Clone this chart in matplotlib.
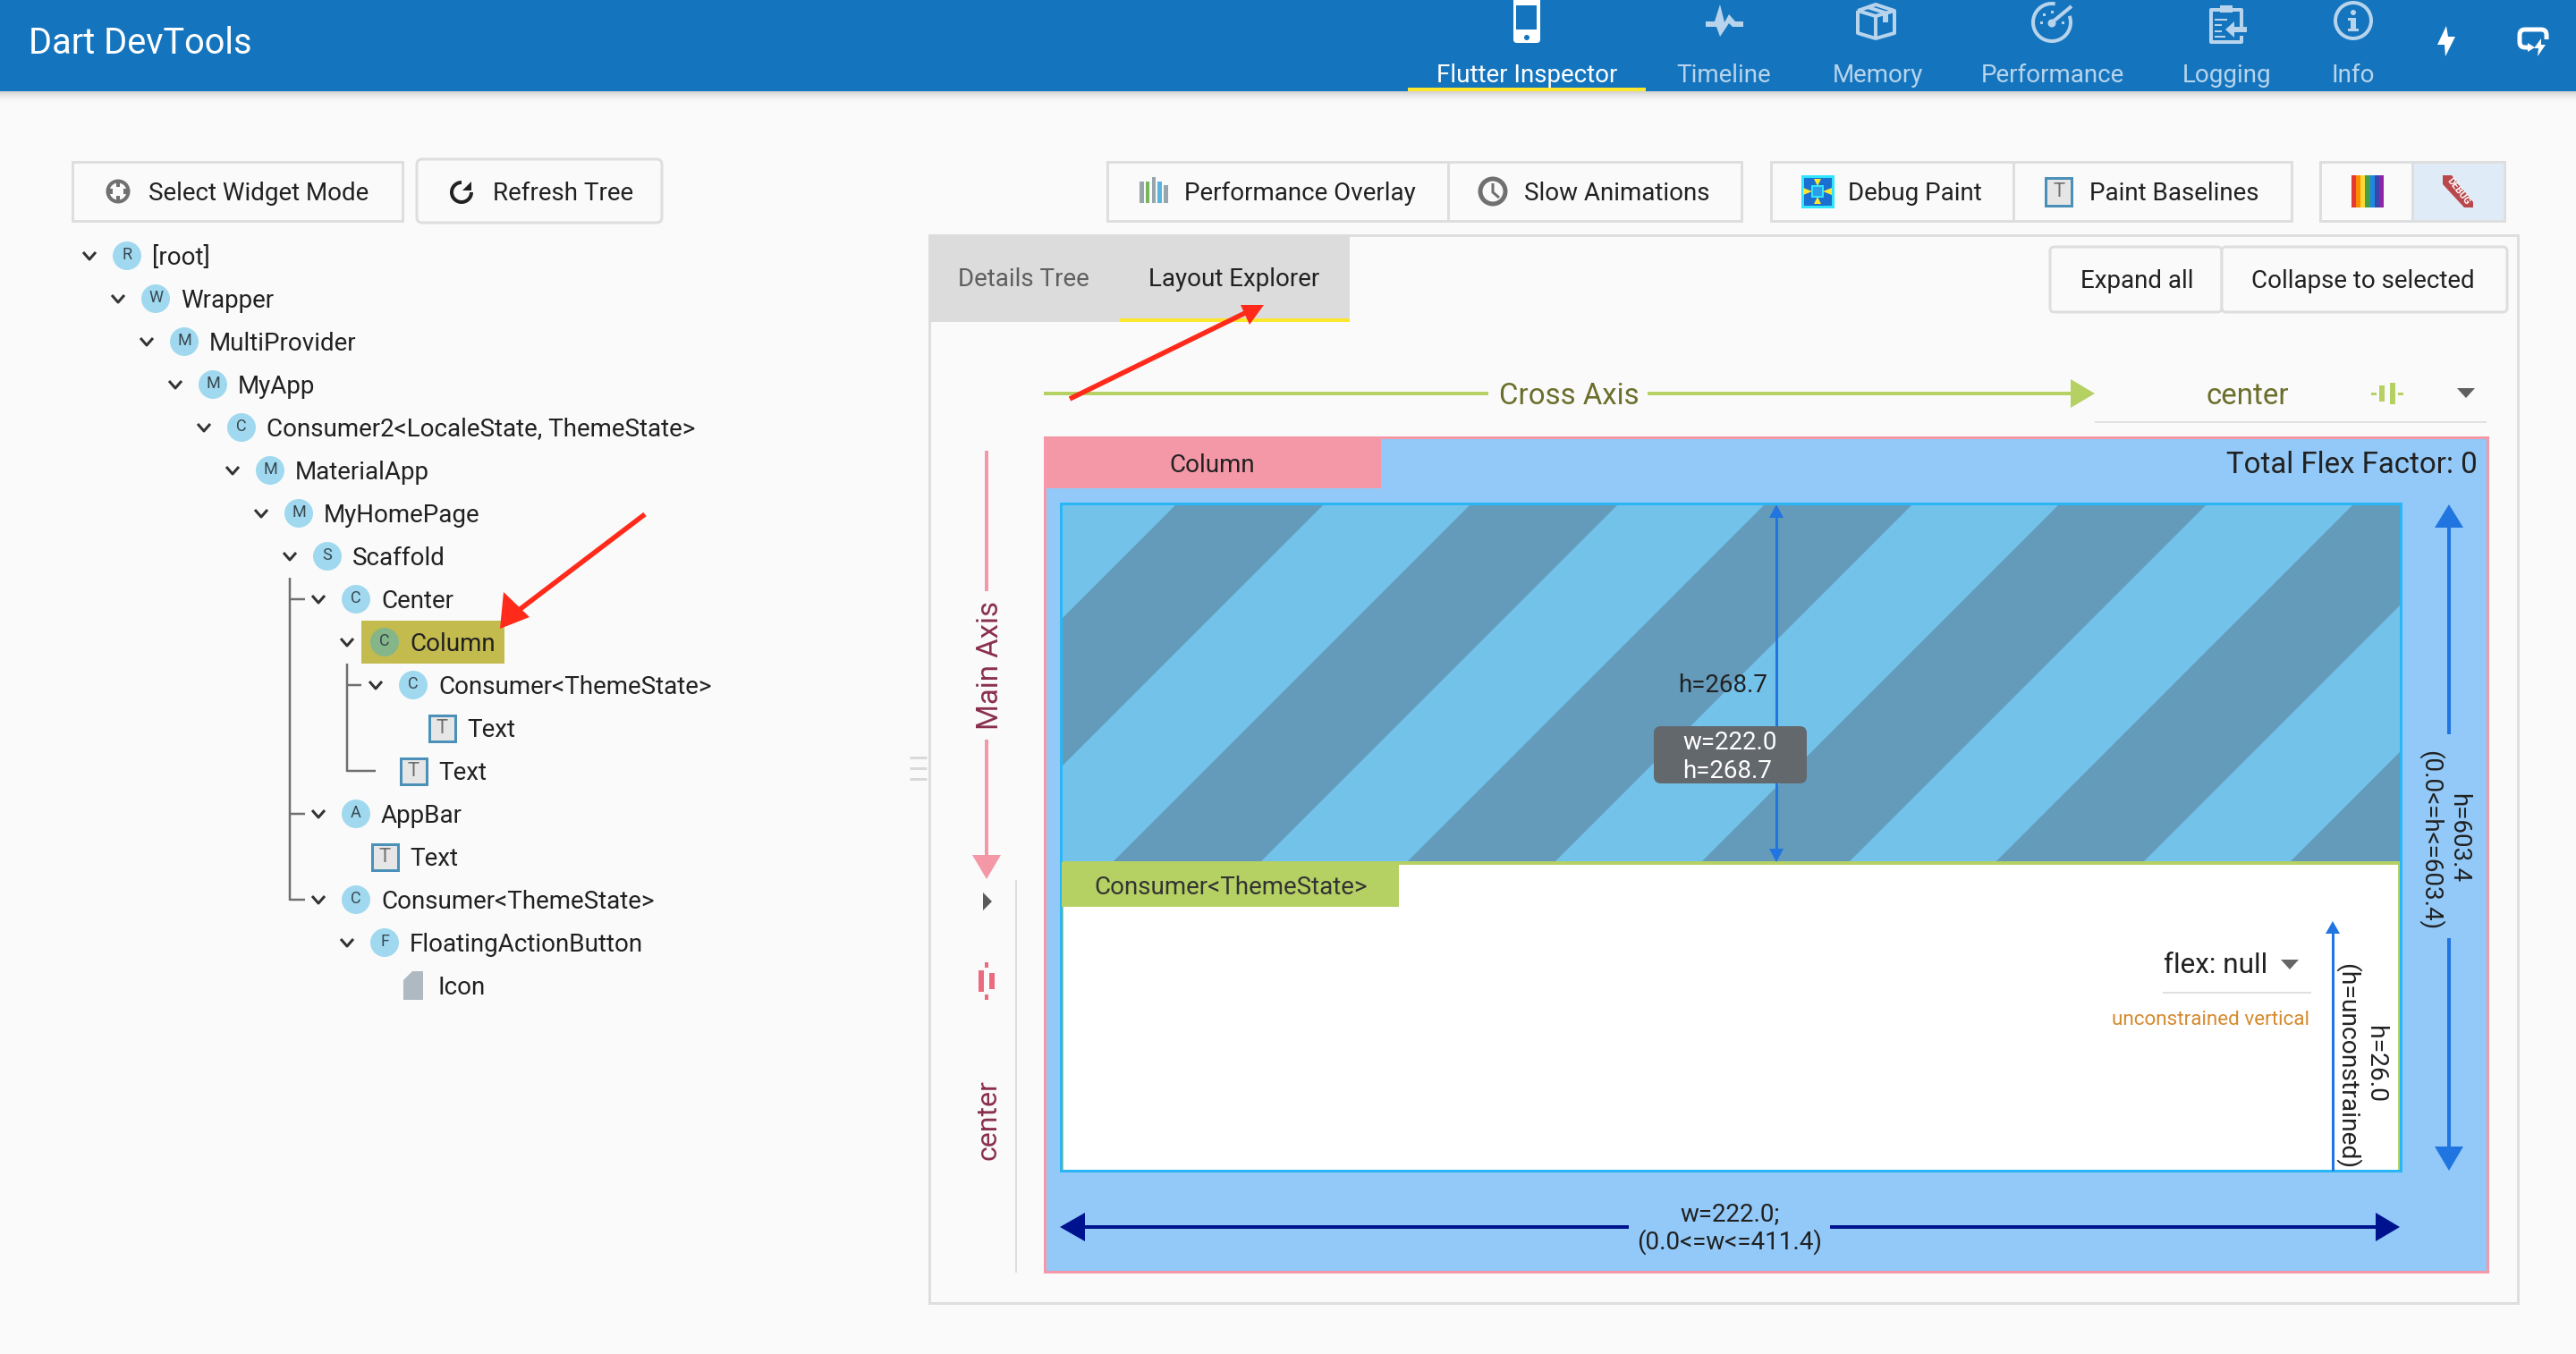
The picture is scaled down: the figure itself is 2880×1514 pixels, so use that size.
import numpy as np
import matplotlib
matplotlib.use("Agg")
import matplotlib.pyplot as plt
from matplotlib.patches import Rectangle, Polygon, Circle, FancyBboxPatch

plt.rcParams['font.family'] = ['Roboto', 'DejaVu Sans']

W, H = 2880, 1514
PX = 0.72

# ---------- content ----------
tab_labels = ["Flutter Inspector", "Timeline", "Memory", "Performance", "Logging", "Info"]
tab_centers = [1707, 1927, 2099, 2295, 2490, 2631]

tree_labels = ["[root]", "Wrapper", "MultiProvider", "MyApp", "Consumer2<LocaleState, ThemeState>",
               "MaterialApp", "MyHomePage", "Scaffold", "Center", "Column", "Consumer<ThemeState>",
               "Text", "Text", "AppBar", "Text", "Consumer<ThemeState>", "FloatingActionButton", "Icon"]
tree_depths = [0, 1, 2, 3, 4, 5, 6, 7, 8, 9, 10, 11, 10, 8, 9, 8, 9, 10]
tree_badges = ["R", "W", "M", "M", "C", "M", "M", "S", "C", "C", "C", "#T", "#T", "A", "#T", "C", "F", "#D"]
tree_chevrons = [1, 1, 1, 1, 1, 1, 1, 1, 1, 1, 1, 0, 0, 1, 0, 1, 1, 0]

stripe_starts = [1315, 1644, 1973, 2302, 2631, 2960, 3289]
rainbow = ["#e53935", "#fb8c00", "#fdd835", "#43a047", "#1e88e5", "#3949ab", "#8e24aa"]

# colours
BG = "#fafafa"; HEAD = "#1475be"; ICON = "#b7d4ec"; YEL = "#fde72e"; BORD = "#dedede"
BADGE = "#a0d9ef"; TXT = "#212121"; RED = "#ff2a1a"; PINK = "#f498a8"; GRN = "#b5d164"
OLIVE = "#6b6f2b"; WINE = "#8a2f4c"; SKY = "#92c9f8"; CYAN = "#29b6f6"; BLUE = "#2175e0"
NAVY = "#00138f"; L_ST = "#72c2ea"; D_ST = "#649aba"

fig = plt.figure(figsize=(W / 100, H / 100), dpi=100, facecolor=BG)
ax = fig.add_axes([0, 0, 1, 1])
ax.set_xlim(0, W); ax.set_ylim(H, 0); ax.axis("off")

BASE = 27.8


def T(x, y, s, size=BASE, c=TXT, ha="left", rot=0, **kw):
    if rot == 0:
        y = y + 2
    return ax.text(x, y, s, fontsize=size * PX, color=c, ha=ha, va="center", rotation=rot,
                   rotation_mode="anchor", **kw)


def R(x0, y0, x1, y1, fc="none", ec="none", lw=0, z=1, **kw):
    p = Rectangle((x0, y0), x1 - x0, y1 - y0, facecolor=fc, edgecolor=ec, linewidth=lw * PX, zorder=z, **kw)
    ax.add_patch(p)
    return p


def RR(x0, y0, x1, y1, fc="none", ec="none", lw=0, r=8, z=1):
    p = FancyBboxPatch((x0, y0), x1 - x0, y1 - y0, boxstyle=f"round,pad=0,rounding_size={r}",
                       facecolor=fc, edgecolor=ec, linewidth=lw * PX, zorder=z)
    ax.add_patch(p)
    return p


def L(xs, ys, c, lw, z=2, **kw):
    kw.setdefault("solid_capstyle", "butt")
    ax.plot(xs, ys, color=c, linewidth=lw * PX, zorder=z, **kw)


def P(pts, c, z=3, **kw):
    ax.add_patch(Polygon(pts, closed=True, facecolor=c, edgecolor="none", zorder=z, **kw))


def arc(cx, cy, r, a0, a1, c, lw, z=6):
    th = np.radians(np.linspace(a0, a1, 60))
    L(cx + r * np.cos(th), cy + r * np.sin(th), c, lw, z=z)


# ---------- header ----------
R(0, 0, W, 102, fc=HEAD, z=5)
for i in range(14):
    R(0, 102 + i, W, 103 + i, fc="#000000", alpha=0.16 * (1 - i / 14) ** 2, z=4)
T(32, 47, "Dart DevTools", size=39.8, c="white", zorder=6)
for i, (lab, cx) in enumerate(zip(tab_labels, tab_centers)):
    T(cx, 83, lab, c="white" if i == 0 else ICON, ha="center", zorder=6)
R(1574, 98, 1840, 102, fc=YEL, z=6)

# phone
RR(1692, -6, 1722, 48, fc="white", r=4, z=6)
R(1695, 6, 1718, 33, fc=HEAD, z=7)
ax.add_patch(Circle((1707, 42), 3, fc=HEAD, ec="none", zorder=7))
# timeline pulse
P([(1907, 24), (1917, 24), (1923, 5), (1928, 25), (1933, 16), (1940, 24), (1949, 24), (1949, 30),
   (1937, 30), (1933, 26), (1923, 41), (1919, 30), (1907, 30)], ICON, z=6)
# memory box
L([2077, 2097, 2118, 2118, 2097, 2077, 2077], [12, 5, 12, 37, 43, 37, 12], ICON, 4, z=6)
L([2077, 2097, 2118], [12, 18, 12], ICON, 4, z=6)
L([2097, 2097], [18, 43], ICON, 4, z=6)
L([2088, 2110], [8, 15], ICON, 4, z=6)
R(2105, 15, 2111, 25, fc=ICON, z=6)
# gauge
arc(2294, 25, 21, -20, 280, ICON, 4)
L([2293, 2316], [26, 7], ICON, 4, z=6)
ax.add_patch(Circle((2294, 26), 4.5, fc=ICON, ec="none", zorder=6))
for dx, dy in ((-12, 0), (-9, -9), (0, -12), (12, 0)):
    R(2294 + dx - 1.5, 25 + dy - 1.5, 2294 + dx + 1.5, 25 + dy + 1.5, fc=ICON, z=6)
# logging clipboard
L([2506, 2506, 2472, 2472, 2506, 2506], [30, 11, 11, 47, 47, 40], ICON, 4, z=6)
R(2482, 6, 2496, 14, fc=ICON, z=6)
for yy, xe in ((22, 2490), (28, 2484), (35, 2484), (41, 2488)):
    R(2476, yy - 1, xe, yy + 1, fc=ICON, z=6)
P([(2488, 33), (2498, 24), (2498, 30), (2512, 30), (2512, 36), (2498, 36), (2498, 42)], ICON, z=7)
# info
ax.add_patch(Circle((2631, 23), 20, fc="none", ec=ICON, lw=4 * PX, zorder=6))
R(2628, 20, 2634, 33, fc=ICON, z=6)
R(2625, 20, 2634, 23, fc=ICON, z=6)
R(2625, 32, 2637, 35, fc=ICON, z=6)
ax.add_patch(Circle((2631, 14), 3, fc=ICON, ec="none", zorder=6))
# lightning
P([(2735, 29), (2725, 50), (2733, 50), (2734, 63), (2745, 41), (2737, 41)], "white", z=6)
# chat refresh
RR(2817, 33, 2847, 53, ec="white", lw=5, r=6, z=6)
R(2829, 44, 2851, 64, fc=HEAD, z=7)
P([(2826, 48), (2834, 53), (2826, 58)], "white", z=8)
P([(2841, 43), (2833, 54), (2838, 54), (2837, 63), (2846, 50), (2841, 50)], "white", z=8)

# ---------- left buttons ----------
R(81, 181, 450, 247, fc=BG, ec=BORD, lw=3)
RR(466, 178, 740, 249, fc=BG, ec=BORD, lw=3, r=6)
T(166, 214, "Select Widget Mode")
T(551, 214, "Refresh Tree")
ax.add_patch(Circle((132, 214), 11.5, fc="none", ec="#707070", lw=4 * PX, zorder=3))
for dx, dy in ((0, -8), (0, 8), (-8, 0), (8, 0)):
    R(132 + dx - 2, 214 + dy - 3, 132 + dx + 2, 214 + dy + 3, fc="#707070", z=3)
arc(516, 215, 11, 0, 270, "#222222", 4, z=3)
P([(527, 203), (527, 213), (517, 213)], "#222222")

# ---------- tree ----------
R(404, 694, 564, 742, fc="#c4bb4f")
for x, y0, y1 in ((324, 646, 1007), (388, 742, 863)):
    L([x, x], [y0, y1], "#6f6f6f", 2.5)
for x0, x1, row_y in ((324, 341, 670), (324, 341, 910), (324, 341, 1006), (388, 404, 766), (388, 420, 862)):
    L([x0, x1], [row_y, row_y], "#6f6f6f", 2.5)

for i, (lab, d, b, ch) in enumerate(zip(tree_labels, tree_depths, tree_badges, tree_chevrons)):
    y = 286 + 48 * i
    bx = 142 + 32 * d
    T(170 + 32 * d, y, lab, zorder=5)
    if ch:
        cx = 100 + 32 * d
        L([cx - 7, cx, cx + 7], [y - 4, y + 4, y - 4], "#333333", 3, z=4)
    if b == "#T":
        R(bx - 14.5, y - 14.5, bx + 14.5, y + 14.5, fc="#e6e6e6", ec="#4a90b8", lw=3, z=4)
        T(bx, y - 2, "T", size=22, c="#707070", ha="center", zorder=5)
    elif b == "#D":
        P([(bx - 11, y - 6), (bx - 1, y - 16), (bx + 11, y - 16), (bx + 11, y + 16), (bx - 11, y + 16)], "#aeb9c1", z=4)
    else:
        ax.add_patch(Circle((bx, y), 16, fc="#84b68a" if lab == "Column" else BADGE, ec="none", zorder=4))
        T(bx, y - 3, b, size=18, c="#37474f", ha="center", zorder=5)

# ---------- top right buttons ----------
R(1238, 181, 1947, 247, fc=BG, ec=BORD, lw=3)
L([1619, 1619], [181, 247], BORD, 3)
R(1980, 181, 2562, 247, fc=BG, ec=BORD, lw=3)
L([2251, 2251], [181, 247], BORD, 3)
R(2697, 182, 2800, 246, fc="#dfecf7")
R(2594, 181, 2800, 247, ec=BORD, lw=3)
L([2697, 2697], [181, 247], BORD, 3)
T(1324, 214, "Performance Overlay")
T(1704, 214, "Slow Animations")
T(2066, 214, "Debug Paint")
T(2336, 214, "Paint Baselines")
# overlay bars
for x0, x1, top, col in ((1274, 1279, 203, "#97a6ae"), (1281, 1285, 203, "#77b55c"), (1288, 1292, 198, "#97a6ae"),
                         (1294, 1299, 203, "#56b4dd"), (1301, 1306, 207, "#97a6ae")):
    R(x0, top, x1, 227, fc=col, z=3)
# clock
ax.add_patch(Circle((1669, 214), 14, fc="none", ec="#707070", lw=5 * PX, zorder=3))
L([1669, 1669, 1676], [205, 215, 221], "#707070", 3, z=3)
# debug paint
R(2015, 197, 2049, 231, fc="#1a6fd0", ec="#2fe4ff", lw=3, z=3)
R(2026, 208, 2038, 220, fc="#2f9ce8", ec="#2fe4ff", lw=2, z=4)
for (tx, ty, bx1, by1, bx2, by2) in ((2032, 208, 2028, 200, 2036, 200), (2032, 220, 2028, 228, 2036, 228),
                                     (2026, 214, 2016, 210, 2016, 218), (2038, 214, 2048, 210, 2048, 218)):
    P([(tx, ty), (bx1, by1), (bx2, by2)], "#fde72e", z=5)
# baselines icon
R(2287, 199, 2316, 230, fc="#e6e6e6", ec="#4a90b8", lw=3, z=3)
T(2302, 212, "T", size=22, c="#707070", ha="center", zorder=4)
# rainbow
for k, col in enumerate(rainbow):
    R(2629 + k * 36 / 7, 196, 2629 + (k + 1) * 36 / 7, 232, fc=col, z=3)
# debug ribbon
P([(2731, 196), (2741, 196), (2765, 226), (2765, 232), (2755, 232), (2731, 206)], "#b9474c", z=3)
ax.text(2748, 214, "DEBUG", fontsize=11 * PX, color="white", ha="center", va="center", rotation=-52,
        rotation_mode="anchor", fontweight="bold", zorder=4)

# ---------- panel ----------
R(1039, 263, 2815, 1457, ec=BORD, lw=3, z=1)
R(1038, 262, 1509, 360, fc="#dcdcdc", z=2)
R(1252, 356, 1509, 360, fc=YEL, z=3)
T(1144, 310, "Details Tree", c="#5f5f5f", ha="center", zorder=4)
T(1380, 310, "Layout Explorer", ha="center", zorder=4)
RR(2292, 276, 2484, 349, fc=BG, ec=BORD, lw=3, r=5, z=3)
RR(2484, 276, 2803, 349, fc=BG, ec=BORD, lw=3, r=5, z=3)
T(2326, 313, "Expand all", zorder=4)
T(2517, 313, "Collapse to selected", zorder=4)

# cross axis
L([1167, 1664], [440, 440], GRN, 4)
L([1842, 2318], [440, 440], GRN, 4)
P([(2315, 424), (2342, 440), (2315, 456)], GRN)
T(1754, 441, "Cross Axis", size=33, c=OLIVE, ha="center")
T(2513, 441, "center", size=33, c=OLIVE, ha="center")
L([2342, 2780], [472, 472], "#e0e0e0", 2)
R(2660, 431, 2666, 449, fc=GRN, z=3)
R(2672, 428, 2678, 452, fc=GRN, z=3)
R(2651, 439, 2657, 442, fc=GRN, z=3)
R(2681, 439, 2687, 442, fc=GRN, z=3)
P([(2747, 434), (2767, 434), (2757, 445)], "#5f5f5f")

# main axis
L([1103, 1103], [504, 661], PINK, 4)
L([1103, 1103], [827, 958], PINK, 4)
P([(1087, 956), (1119, 956), (1103, 983)], PINK)
T(1107, 744, "Main Axis", size=33, c=WINE, ha="center", rot=90)
L([1136, 1136], [984, 1423], BORD, 2)
P([(1099, 998), (1109, 1008), (1099, 1018)], "#5a5a5a")
R(1094, 1085, 1100, 1109, fc="#ec6a7f", z=3)
R(1106, 1088, 1112, 1106, fc="#ec6a7f", z=3)
R(1101, 1076, 1105, 1082, fc="#ec6a7f", z=3)
R(1101, 1112, 1105, 1118, fc="#ec6a7f", z=3)
T(1105, 1252, "center", size=32, c=WINE, ha="center", rot=90)

# layout box
R(1168, 489, 2781, 1422, fc=SKY, ec=PINK, lw=3, z=2)
R(1167, 488, 1544, 546, fc=PINK, z=3)
T(1355, 518, "Column", ha="center", zorder=4)
T(2770, 518, "Total Flex Factor: 0", size=33, ha="right", zorder=4)

# stripes
clip = R(1187, 564, 2683, 964, fc=L_ST, z=3)
for x0 in stripe_starts:
    p = Polygon([(x0, 564), (x0 + 165, 564), (x0 + 165 - 400, 964), (x0 - 400, 964)], closed=True,
                facecolor=D_ST, edgecolor="none", zorder=4)
    ax.add_patch(p)
    p.set_clip_path(clip)

# child box
R(1187, 964, 2683, 1308, fc="white", z=3)
L([1186.5, 1186.5], [964, 1308], GRN, 3, z=5)
L([1185, 2683], [965, 965], GRN, 4, z=5)
L([2681.5, 2681.5], [964, 1308], GRN, 3, z=5)
R(1186, 563, 2684, 1309, ec=CYAN, lw=3, z=6)
R(1187, 964, 1564, 1014, fc=GRN, z=6)
T(1376, 990, "Consumer<ThemeState>", c="#333333", ha="center", zorder=7)

# h=268.7
L([1986, 1986], [575, 955], BLUE, 3, z=5)
P([(1986, 564), (1978, 579), (1994, 579)], BLUE, z=5)
P([(1986, 964), (1978, 949), (1994, 949)], BLUE, z=5)
T(1976, 764, "h=268.7", ha="right", zorder=7)
RR(1849, 812, 2020, 876, fc="#63686d", r=8, z=8)
T(1934, 828, "w=222.0", c="white", ha="center", zorder=9)
T(1931, 860, "h=268.7", c="white", ha="center", zorder=9)

# flex
T(2419, 1078, "flex: null", size=31.5, zorder=7)
P([(2550, 1073), (2570, 1073), (2560, 1084)], "#666666", z=7)
L([2418, 2584], [1110, 1110], "#e0e0e0", 2, z=7)
T(2582, 1138, "unconstrained vertical", size=22.5, c="#d68a2e", ha="right", zorder=7)

# h=26.0 arrow
L([2608, 2608], [1040, 1309], BLUE, 3, z=7)
P([(2608, 1030), (2600, 1044), (2616, 1044)], BLUE, z=7)
T(2625, 1192, "(h=unconstrained)", size=28.3, ha="center", rot=-90, zorder=7)
T(2656, 1190, "h=26.0", size=28.3, ha="center", rot=-90, zorder=7)

# parent height arrow
L([2738, 2738], [590, 821], BLUE, 4, z=7)
L([2738, 2738], [1049, 1285], BLUE, 4, z=7)
P([(2738, 564), (2722, 590), (2754, 590)], BLUE, z=7)
P([(2738, 1309), (2722, 1282), (2754, 1282)], BLUE, z=7)
T(2749, 937, "h=603.4", ha="center", rot=-90, zorder=7)
T(2718, 940, "(0.0<=h<=603.4)", ha="center", rot=-90, zorder=7)

# width arrow
L([1210, 1821], [1372, 1372], NAVY, 4, z=7)
L([2046, 2660], [1372, 1372], NAVY, 4, z=7)
P([(1185, 1372), (1213, 1356), (1213, 1388)], NAVY, z=7)
P([(2683, 1372), (2656, 1356), (2656, 1388)], NAVY, z=7)
T(1934, 1356, "w=222.0;", ha="center", zorder=7)
T(1934, 1387, "(0.0<=w<=411.4)", ha="center", zorder=7)

# drag handle
for yy in (847, 859, 871):
    L([1017, 1036], [yy, yy], "#d9d9d9", 3)

# red call-out arrows
L([721, 575], [575, 686], RED, 5.5, z=20)
P([(559, 703), (563, 662), (592, 690)], RED, z=20)
L([1196, 1392], [446, 350], RED, 5.5, z=20)
P([(1387, 341), (1413, 341), (1397, 363)], RED, z=20)

fig.savefig("out.png", dpi=100, facecolor=BG)
